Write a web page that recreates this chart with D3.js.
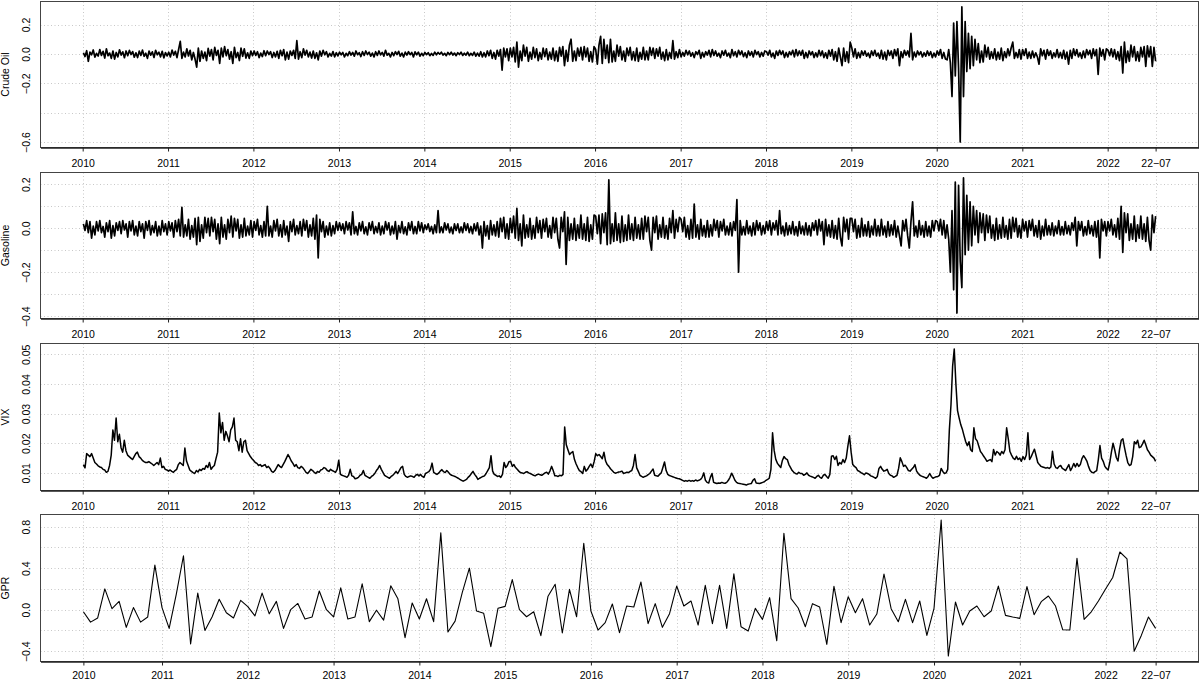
<!DOCTYPE html>
<html><head><meta charset="utf-8">
<script src="https://cdn.jsdelivr.net/npm/d3@7"></script>
<style>
body{margin:0;background:#fff}
svg{display:block}
</style>
</head><body>
<svg id="chart" width="1200" height="681"></svg>
<script>
// ---------- data ----------
const startDate = [2010, 0, 4];
const endDate = [2022, 6, 25];
const years = [2010,2011,2012,2013,2014,2015,2016,2017,2018,2019,2020,2021,2022];
const lastTickLabel = "22\u221207";

// weekly-resolution readings of the daily return bands (one row per year)
const crude = [
.008,-.018,.022,-.05,.012,-.006,.027,-.022,.004,-.015,.03,-.01,.018,-.028,.035,-.012,.006,-.03,.02,-.035,.01,-.02,.028,-.008,.014,-.026,.02,-.012,.024,-.004,.016,-.022,.008,-.025,.019,-.01,.026,-.016,.005,-.03,.02,-.008,.014,-.024,.025,-.006,.012,-.02,.018,-.027,.009,-.014,
.012,-.02,.026,-.008,.018,-.025,.03,.085,-.03,.012,-.02,.035,-.014,.025,-.04,.01,-.035,-.09,.04,-.05,.02,-.03,.012,-.045,.038,-.015,.03,-.04,.045,-.01,.025,-.065,.04,-.02,.05,-.012,.03,-.035,.015,-.065,.045,-.025,.01,-.045,.04,-.016,.035,-.028,.008,-.03,.02,-.012,
.02,-.01,.015,-.025,.006,-.018,.022,-.012,.02,-.004,.015,-.025,.01,-.02,.018,-.03,.025,-.012,.03,-.04,.012,-.035,.02,-.01,.025,-.03,.09,-.035,.015,-.025,.035,-.008,.025,-.02,.012,-.028,.02,-.03,.008,-.04,.02,-.015,.025,-.006,.015,-.02,.004,-.015,.016,-.02,.008,-.014,
.012,-.006,.01,-.02,.004,-.012,.015,-.008,.01,-.015,.02,-.005,.008,-.018,.015,-.01,.02,-.004,.012,-.015,.006,-.02,.015,-.01,.02,-.006,.01,-.015,.025,-.008,.004,-.02,.01,-.012,.015,-.004,.018,-.015,.006,-.02,.012,-.008,.015,-.005,.01,-.02,.014,-.006,.012,-.015,.004,-.012,
.01,-.005,.008,-.012,.003,-.01,.012,-.006,.01,-.002,.012,-.008,.004,-.012,.01,-.005,.012,-.008,.006,-.012,.008,-.004,.012,-.01,.005,-.008,.012,-.012,.004,-.01,.012,-.015,.006,-.015,.015,-.02,.008,-.02,.02,-.012,.025,-.03,.01,-.035,.025,-.015,.03,-.11,.04,-.02,.035,-.045,
.04,-.02,.045,-.055,.08,-.09,.02,-.045,.06,-.015,.045,-.05,.012,-.035,.045,-.025,.035,-.045,.01,-.035,.04,-.018,.035,-.04,.012,-.035,.04,-.045,.02,-.05,.045,-.015,.05,-.08,.025,-.05,.06,.1,-.05,.02,-.045,.04,-.015,.045,-.04,.05,-.02,.04,-.05,.015,-.055,.05,
.03,-.07,.06,.12,-.065,.1,-.03,.06,-.06,.1,-.055,.02,-.05,.06,-.015,.05,-.04,.02,-.05,.04,-.012,.045,-.04,.015,-.045,.04,-.05,.01,-.035,.045,-.04,.02,-.04,.045,-.01,.04,-.03,.035,-.015,.045,-.035,.012,-.045,.03,-.04,.01,-.03,.09,-.035,.015,-.025,.03,
-.02,.01,-.015,.025,-.006,.02,-.015,.008,-.025,.015,-.004,.025,-.03,.01,-.02,.015,-.008,.025,-.02,.03,-.01,.02,-.015,.005,-.025,.02,-.008,.025,-.015,.006,-.025,.03,-.012,.015,-.02,.025,-.005,.02,-.018,.008,-.025,.02,-.01,.015,-.02,.025,-.004,.015,-.02,.01,-.015,.02,
.015,-.008,.025,-.02,.006,-.03,.02,-.01,.025,-.004,.02,-.025,.01,-.02,.015,-.006,.025,-.02,.03,-.012,.02,-.008,.025,-.03,.01,-.025,.02,-.006,.015,-.025,.008,-.02,.025,-.012,.02,-.025,.008,-.03,.025,-.015,.03,-.04,.015,-.05,.04,-.02,-.08,.04,-.05,.015,-.06,.08,
.04,-.02,.035,-.03,.01,-.025,.02,-.008,.02,-.015,.006,-.025,.02,-.01,.025,-.015,.006,-.03,.025,-.035,.012,-.04,.025,-.01,.02,-.03,.03,-.012,.035,-.08,.015,-.025,.025,-.008,.02,-.02,.14,-.04,.012,-.02,.02,-.006,.015,-.02,.008,-.015,.02,-.01,.015,-.025,.006,-.02,
.02,-.008,.03,-.03,.01,-.035,-.04,.03,-.06,-.29,.21,-.15,.22,-.1,-.6,.32,-.29,.22,-.12,.14,-.1,.12,-.08,.1,-.04,.07,-.06,.02,-.055,.06,-.02,.045,-.035,.015,-.03,.035,-.04,.012,-.035,.04,-.045,.015,-.025,.035,-.012,.04,.08,-.03,.01,-.025,.03,-.035,
.03,-.01,.035,-.03,.012,-.03,.02,-.025,.008,-.02,-.07,.035,-.012,.025,-.035,.03,-.01,.02,-.03,.008,-.02,.03,-.025,.01,-.03,.025,-.035,.012,-.07,.025,-.03,.035,-.01,.03,-.02,.008,-.03,.02,-.025,.03,-.006,.025,-.03,.035,-.012,.03,-.14,.04,-.015,.03,-.04,.035,
.025,-.012,.035,-.02,.03,-.035,.015,-.045,.05,-.13,.08,-.06,.02,-.05,.06,-.02,.05,-.045,.015,-.05,.045,-.02,.05,-.085,.055,-.02,.05,-.085,.045,-.05
];

const gasoline = [
.02,-.01,.035,-.02,.03,-.045,.01,-.03,.03,-.012,.035,-.02,.008,-.04,.025,-.015,.035,-.045,.012,-.035,.025,-.01,.03,-.025,.035,-.008,.02,-.04,.03,-.012,.035,-.03,.01,-.035,.03,-.015,.02,-.045,.03,-.01,.035,-.03,.012,-.02,.03,-.035,.01,-.03,.035,-.015,.02,-.03,
.03,-.012,.025,-.04,.035,-.015,.04,-.035,.095,-.04,.015,-.035,.04,-.05,.012,-.04,.045,-.075,.05,-.06,.015,-.045,.05,-.02,.045,-.035,.05,-.015,.04,-.05,.02,-.07,.05,-.04,.015,-.05,.04,-.02,.055,-.04,.045,-.012,.04,-.045,.015,-.04,.045,-.035,.01,-.03,.035,-.04,
.03,-.01,.04,-.03,.012,-.04,.03,-.035,.1,-.035,.01,-.04,.035,-.012,.04,-.035,.015,-.04,.035,-.03,.01,-.06,.03,-.015,.04,-.03,.012,-.025,.03,-.035,.04,-.01,.035,-.04,.015,-.035,.045,-.05,.06,-.135,.04,-.015,.03,-.04,.01,-.03,.025,-.035,.012,-.025,.03,-.01,
.025,-.01,.02,-.025,.03,-.008,.025,-.03,.075,-.025,.008,-.03,.025,-.012,.03,-.025,.006,-.03,.025,-.01,.03,-.025,.008,-.02,.025,-.03,.01,-.025,.03,-.008,.025,-.03,.01,-.025,.03,-.05,.012,-.02,.03,-.025,.006,-.03,.025,-.01,.03,-.025,.008,-.025,.03,-.012,.025,-.02,
.015,-.006,.02,-.015,.008,-.025,.015,-.02,.08,-.02,.006,-.02,.025,-.008,.02,-.02,.005,-.025,.02,-.01,.02,-.02,.006,-.02,.025,-.01,.02,-.02,.008,-.025,.02,-.012,.025,-.03,.01,-.09,.03,-.035,.012,-.05,.035,-.03,.015,-.035,.03,-.04,.045,-.015,.05,-.045,.02,-.05,
.045,-.02,.055,-.045,.09,-.055,.02,-.08,.06,-.045,.015,-.04,.045,-.05,.012,-.045,.05,-.02,.035,-.045,.04,-.015,.045,-.04,.012,-.045,.05,-.02,.045,-.05,-.09,.05,-.015,.075,-.165,.05,-.055,.02,-.05,.045,-.055,.015,-.045,.06,-.05,.02,-.055,.05,-.06,.015,-.05,.06,
.055,-.025,.06,-.07,.065,-.02,.07,-.075,.22,-.07,.02,-.06,.07,-.055,.02,-.065,.055,-.06,.015,-.055,.06,-.05,.02,-.055,.05,-.045,.015,-.05,.045,-.05,.055,-.015,.05,-.055,-.1,.05,-.02,.055,-.05,.015,-.04,.05,-.045,.012,-.05,.045,-.02,.08,-.045,.04,-.015,.05,
.04,-.015,.05,-.04,.012,-.05,.04,-.045,.11,-.04,.015,-.05,.04,-.035,.012,-.04,.035,-.04,.015,-.035,.04,-.01,.035,-.04,.03,-.012,.04,-.03,.01,-.03,.025,-.035,.03,-.01,.13,-.2,.035,-.03,.008,-.03,.035,-.025,.01,-.035,.025,-.03,.035,-.01,.025,-.03,.012,-.025,
.03,-.01,.035,-.03,.025,-.008,.035,-.03,.08,-.025,.01,-.035,.025,-.03,.012,-.025,.03,-.03,.008,-.035,.03,-.025,.01,-.03,.025,-.03,.012,-.035,.025,-.01,.035,-.03,.04,-.012,.03,-.075,.04,-.035,.015,-.04,.035,-.045,.012,-.05,.045,-.04,-.08,.05,-.015,.04,-.05,.045,
.045,-.015,.04,-.045,.012,-.04,.045,-.035,.015,-.035,.03,-.04,.01,-.03,.04,-.035,.012,-.035,.04,-.03,.01,-.04,.03,-.035,.015,-.03,.035,-.04,.01,-.035,-.08,.035,-.012,.04,-.035,-.09,.03,.12,-.035,.01,-.04,.035,-.03,.012,-.04,.03,-.035,.01,-.04,.035,-.012,.035,
.03,-.012,.04,-.03,.035,-.045,.015,-.05,-.2,.08,-.28,.21,-.386,.195,-.15,-.27,.229,-.12,.15,-.1,.12,-.08,.1,-.03,.08,-.065,.07,-.02,.065,-.055,.06,-.02,.055,-.045,.015,-.055,.045,-.05,.015,-.045,.05,-.04,.012,-.05,.04,-.045,.05,-.015,.045,-.04,.012,-.045,
.04,-.012,.03,-.04,.035,-.01,.04,-.035,.012,-.04,.035,-.05,.01,-.035,.04,-.03,.012,-.03,.025,-.035,.01,-.025,.035,-.03,.008,-.03,.03,-.025,.012,-.03,.025,-.01,.05,-.08,.03,-.01,.03,-.035,.008,-.03,.035,-.025,.012,-.035,.03,-.04,.035,-.135,.04,-.012,.03,-.035,
.03,-.012,.04,-.03,.015,-.04,.045,-.05,.1,-.11,.07,-.02,.065,-.055,.02,-.05,.055,-.06,.015,-.045,.055,-.05,.02,-.06,.05,-.055,-.1,.06,-.02,.055
];

const vix = [
.0128,.0117,.0165,.016,.0155,.0165,.015,.0135,.013,.0124,.012,.0118,.0112,.011,.0102,.0105,.0125,.016,.0245,.021,.0285,.0205,.023,.0185,.017,.021,.0175,.016,.0155,.015,.0145,.0155,.0165,.017,.0155,.015,.0142,.0138,.0135,.0135,.0138,.0134,.013,.0125,.013,.0135,.0128,.015,.0118,.0122,.0112,.011,
.0106,.011,.0105,.0102,.0108,.0112,.0128,.0135,.013,.0125,.0184,.014,.0125,.011,.0105,.0101,.0098,.0108,.0103,.0112,.0108,.0115,.0112,.0125,.0118,.0135,.0112,.012,.0125,.0148,.017,.0302,.0235,.027,.021,.024,.0225,.0205,.0245,.0255,.0285,.021,.0205,.0175,.0215,.017,.0205,.021,.0175,.0165,.0155,.0148,
.0142,.0135,.0132,.0125,.0128,.0122,.0125,.0128,.0118,.0122,.0115,.0105,.0102,.0108,.0118,.0128,.0122,.0118,.0128,.0138,.015,.0162,.0152,.014,.0132,.0122,.0128,.0118,.0115,.0122,.0118,.011,.0102,.0098,.0105,.0112,.0108,.0102,.0098,.0105,.0102,.011,.0112,.0118,.0115,.0108,.0105,.0112,.0108,.0105,.0102,.0112,.0143,
.0095,.0092,.009,.0088,.0085,.0092,.0112,.009,.0088,.008,.0082,.0085,.0092,.0095,.0108,.0092,.0088,.0085,.0082,.0088,.0092,.0098,.0108,.0115,.0125,.0112,.0102,.0092,.0088,.0085,.0082,.0088,.0092,.0098,.0105,.0098,.0108,.0118,.0122,.0095,.0088,.0085,.0088,.009,.0088,.0085,.0092,.0095,.009,.0095,.0088,.0085,
.0098,.0101,.0104,.0112,.0133,.0102,.0098,.0095,.0099,.0106,.0111,.0104,.0101,.0108,.0102,.0095,.0092,.009,.0088,.0085,.0082,.0078,.0075,.0072,.0075,.0078,.0085,.009,.0098,.0105,.0095,.0088,.0078,.0082,.0085,.0088,.009,.0098,.0108,.0118,.0158,.0106,.0095,.0092,.0088,.009,.0085,.0095,.0135,.0118,.0125,.0138,
.0139,.0122,.0128,.0118,.0112,.0106,.0101,.01,.0098,.0102,.0104,.01,.0098,.0095,.0092,.009,.0094,.0096,.0094,.0092,.0096,.01,.0102,.0096,.0106,.0122,.0108,.009,.009,.0088,.0092,.009,.0095,.0255,.0195,.0178,.0162,.0168,.0172,.0145,.013,.0118,.0108,.0104,.0098,.0122,.0106,.0112,.0122,.013,.0118,.0138,
.0165,.0158,.0162,.0155,.0148,.017,.014,.0128,.0122,.0114,.0108,.0102,.0099,.0101,.0103,.0104,.0106,.0098,.01,.0102,.0101,.0105,.0108,.0125,.0162,.0117,.0105,.0092,.0088,.0085,.0088,.009,.0094,.0098,.0106,.0113,.0092,.009,.0089,.0095,.01,.0118,.0137,.0108,.0095,.0091,.0089,.0087,.0085,.0083,.0081,.008,
.0078,.0075,.0072,.0074,.0072,.0075,.0072,.0074,.0072,.0076,.0073,.0075,.0078,.0085,.01,.0075,.0068,.0066,.0085,.0098,.0068,.0066,.0064,.0066,.0065,.0068,.0066,.0065,.0068,.0075,.0085,.0099,.0088,.0075,.0068,.0065,.0064,.0063,.0062,.0061,.0059,.0062,.0063,.0064,.0075,.008,.0066,.0065,.0064,.0066,.0068,.007,.0075,
.0078,.0082,.0112,.0235,.0175,.0145,.0132,.0125,.0118,.0142,.0155,.0148,.0145,.0128,.0118,.0108,.0102,.0098,.0096,.0102,.0098,.0098,.0092,.0095,.01,.0092,.0089,.0087,.0085,.0082,.0088,.0092,.0085,.0082,.0092,.0095,.0088,.0082,.0095,.0156,.0158,.0145,.0156,.0125,.0135,.013,.0145,.0135,.015,.019,.0225,.017,
.0128,.0122,.0118,.0108,.0105,.0101,.0098,.0094,.01,.0098,.0095,.009,.0088,.0085,.0082,.0088,.0115,.0122,.0112,.0106,.0108,.0112,.0098,.0092,.009,.0085,.0088,.0092,.0115,.0151,.0138,.0122,.0126,.0118,.0108,.0106,.0112,.0118,.0128,.0106,.0098,.0092,.0089,.0087,.0085,.0082,.0088,.0098,.0088,.0082,.0085,.0087,
.0088,.0092,.0115,.0105,.0098,.01,.0112,.0245,.033,.046,.0518,.04,.031,.0285,.0262,.0246,.0225,.0205,.0192,.0205,.0178,.0172,.0252,.0215,.0208,.019,.0172,.0165,.0156,.0148,.0139,.0142,.0145,.0138,.0179,.016,.0172,.0168,.016,.0172,.0165,.0178,.0252,.0215,.0172,.016,.015,.0145,.0156,.0145,.015,.0139,
.0155,.0145,.016,.0235,.0145,.0155,.0168,.018,.0158,.0135,.0128,.0122,.012,.0118,.0116,.0118,.0115,.012,.0173,.013,.0118,.0115,.0122,.0125,.0115,.0112,.0108,.0118,.0128,.0108,.0118,.0132,.012,.0132,.0122,.0128,.0148,.0158,.015,.014,.0122,.0108,.0102,.01,.0104,.0108,.0145,.0192,.015,.0139,.0122,.0115,.011,
.0135,.017,.02,.0178,.0152,.014,.018,.021,.0215,.0185,.0158,.0135,.0125,.0128,.0155,.0205,.0198,.021,.0185,.0188,.0198,.021,.0195,.0178,.017,.016,.0155,.015,.0139
];

// monthly GPR change
const gpr = [
-0.02,-0.12,-0.08,0.2,0.01,0.08,-0.17,0.02,-0.12,-0.07,
0.43,0.02,-0.18,0.15,0.52,-0.33,0.16,-0.2,-0.07,0.1,
-0.03,-0.08,0.09,0.03,-0.06,0.16,-0.04,0.08,-0.18,0.0,
0.06,-0.09,-0.07,0.18,0.0,-0.07,0.21,-0.09,-0.07,0.25,
-0.115,-0.005,-0.1,0.23,0.105,-0.27,0.065,-0.09,0.105,-0.115,
0.74,-0.215,-0.11,0.165,0.4,-0.013,-0.035,-0.357,0.013,0.032,
0.29,0.0,-0.068,-0.02,-0.25,0.13,0.245,-0.225,0.196,-0.068,
0.64,-0.013,-0.196,-0.125,0.055,-0.222,0.035,0.026,0.267,-0.135,
0.058,-0.17,-0.039,0.228,0.035,0.084,-0.148,0.235,-0.135,0.235,
-0.18,0.345,-0.164,-0.206,0.013,-0.093,0.116,-0.3,0.736,0.106,
0.016,-0.164,0.058,0.026,-0.334,0.225,-0.125,0.125,-0.029,0.106,
-0.148,-0.042,0.344,0.01,-0.116,0.1,-0.125,0.084,-0.248,0.013,
0.865,-0.447,0.074,-0.148,-0.013,0.035,-0.068,-0.013,0.228,-0.055,
-0.071,-0.084,0.222,-0.048,0.077,0.132,0.035,-0.193,-0.196,0.495,
-0.093,-0.02,0.084,0.2,0.31,0.556,0.49,-0.4,-0.248,-0.07,
-0.18
];
const gprTickIndex = [0,11,23,35,47,59,71,83,95,107,119,131,143,150];

const crudeGrid = [0.2,0,-0.2,-0.4,-0.6];
const crudeLabels = [0.2,0,-0.2,-0.6];
const gasGrid = [0.2,0.1,0,-0.1,-0.2,-0.3,-0.4];
const gasLabels = [0.2,0,-0.2,-0.4];
const vixGrid = [0.01,0.02,0.03,0.04,0.05];
const vixLabels = [0.01,0.02,0.03,0.04,0.05];
const gprGrid = [-0.4,-0.2,0,0.2,0.4,0.6,0.8];
const gprLabels = [-0.4,0,0.4,0.8];

// ---------- drawing ----------
const svg = d3.select("#chart");
const L = 40.5, R = 1198.5;
const FONT = '"Liberation Sans", Arial, Helvetica, sans-serif';

const t0 = new Date(...startDate), t1 = new Date(...endDate);
function datesFor(arr){
  const n = arr.length;
  return arr.map((_, i) => new Date(+t0 + (t1 - t0) * i / (n - 1)));
}
const yearDates = years.map(y => new Date(y, 0, 1));
const dateTicks = yearDates.concat([t1]);
const dateFmt = d => (+d === +t1) ? lastTickLabel : String(d.getFullYear());
const gprTickLabels = years.map(String).concat([lastTickLabel]);

function pad(ext){ const r = ext[1]-ext[0]; return [ext[0]-0.04*r, ext[1]+0.04*r]; }

const panels = [
  {title:"Crude Oil", values:crude, kind:"date", top:1.5, bottom:147.5, grid:crudeGrid, labels:crudeLabels, fmt:d3.format(".1f"), lw:1.7, lp:8.5},
  {title:"Gasoline", values:gasoline, kind:"date", top:172.5, bottom:318.5, grid:gasGrid, labels:gasLabels, fmt:d3.format(".1f"), lw:1.7, lp:8.5},
  {title:"VIX", values:vix, kind:"date", top:343.5, bottom:490.5, grid:vixGrid, labels:vixLabels, fmt:d3.format(".2f"), lw:1.5, lp:8.5},
  {title:"GPR", values:gpr, kind:"index", top:514.5, bottom:661.5, grid:gprGrid, labels:gprLabels, fmt:d3.format(".1f"), lw:1.1, lp:6.5}
];

panels.forEach(p => {
  const g = svg.append("g");
  let x, xs, tickVals, tickFmt;
  if (p.kind === "date") {
    xs = datesFor(p.values);
    const ext = d3.extent(xs).map(Number);
    x = d3.scaleTime().domain(pad(ext).map(v => new Date(v))).range([L, R]);
    tickVals = dateTicks; tickFmt = dateFmt;
  } else {
    xs = p.values.map((_, i) => i);
    x = d3.scaleLinear().domain(pad(d3.extent(xs))).range([L, R]);
    tickVals = gprTickIndex; tickFmt = (d, i) => gprTickLabels[i];
  }
  const y = d3.scaleLinear().domain(pad(d3.extent(p.values))).range([p.bottom, p.top]);

  // grid
  const grid = g.append("g").attr("stroke", "#c8c8c8").attr("stroke-width", 1).attr("stroke-dasharray", "1,2.5");
  grid.selectAll("line.v").data(tickVals).join("line")
    .attr("x1", d => Math.round(x(d)) + 0.5).attr("x2", d => Math.round(x(d)) + 0.5)
    .attr("y1", p.top).attr("y2", p.bottom);
  grid.selectAll("line.h").data(p.grid).join("line")
    .attr("x1", L).attr("x2", R)
    .attr("y1", d => Math.round(y(d)) + 0.5).attr("y2", d => Math.round(y(d)) + 0.5);

  // series
  const line = d3.line().x((d, i) => x(xs[i])).y(d => y(d));
  g.append("path").datum(p.values).attr("d", line)
    .attr("fill", "none").attr("stroke", "#000").attr("stroke-width", p.lw).attr("stroke-linejoin", "round");

  // box
  g.append("rect").attr("x", L).attr("y", p.top).attr("width", R - L).attr("height", p.bottom - p.top)
    .attr("fill", "none").attr("stroke", "#444").attr("stroke-width", 1);

  // x axis
  const xa = g.append("g").attr("transform", `translate(0,${p.bottom})`)
    .call(d3.axisBottom(x).tickValues(tickVals).tickFormat(tickFmt).tickSizeInner(4).tickSizeOuter(0).tickPadding(p.lp));
  xa.attr("font-family", FONT).attr("font-size", 10.5);
  xa.select(".domain").attr("stroke", "#222").attr("stroke-width", 1.3);
  xa.selectAll(".tick line").attr("stroke", "#222");
  xa.selectAll(".tick text").attr("fill", "#000");

  // y axis (labels parallel to axis)
  const ya = g.append("g").attr("transform", `translate(${L},0)`)
    .call(d3.axisLeft(y).tickValues(p.labels).tickFormat(p.fmt).tickSize(0));
  ya.attr("font-family", FONT).attr("font-size", 10.5);
  ya.select(".domain").remove();
  ya.selectAll(".tick text").attr("x", null).attr("dy", null)
    .attr("transform", "translate(-11,0) rotate(-90)").attr("text-anchor", "middle").attr("fill", "#000");

  // title
  g.append("text").attr("transform", `translate(8.5,${(p.top + p.bottom) / 2}) rotate(-90)`)
    .attr("text-anchor", "middle").attr("font-family", FONT).attr("font-size", 10.5).attr("fill", "#000")
    .text(p.title);
});
</script>
</body></html>
